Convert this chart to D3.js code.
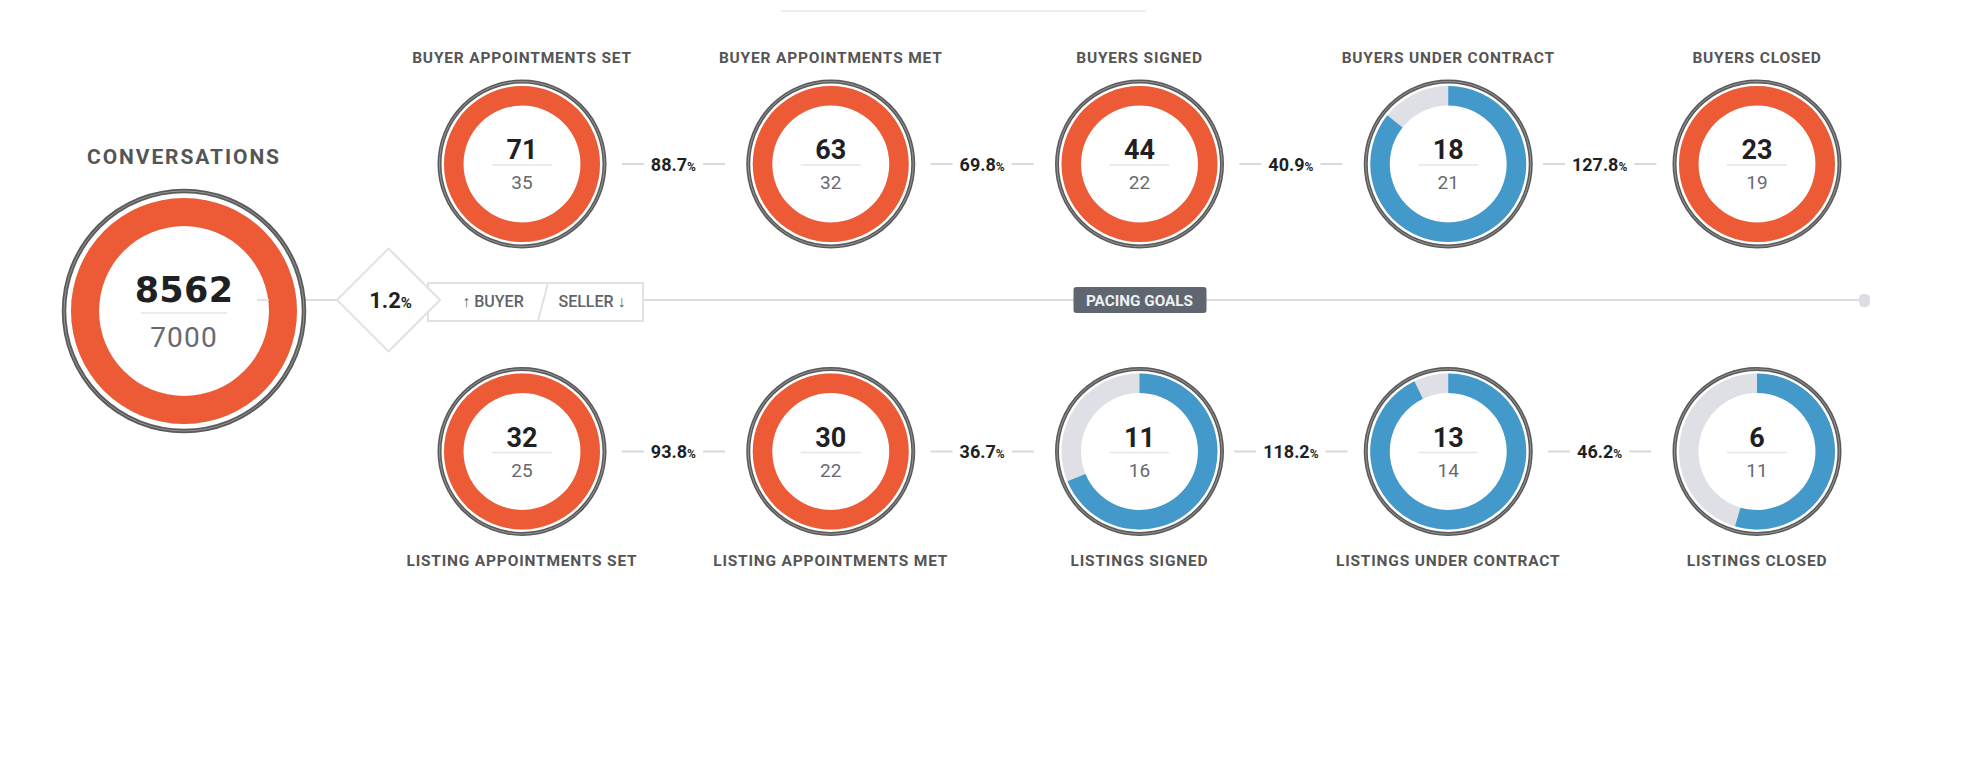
<!DOCTYPE html>
<html>
<head>
<meta charset="utf-8">
<script src="https://cdn.jsdelivr.net/npm/d3@7"></script>
<style>
  html, body { margin: 0; padding: 0; background: #ffffff; }
  svg { display: block; }
  text { font-family: Roboto, "Liberation Sans", Arial, sans-serif; }
</style>
</head>
<body>
<svg id="chart" width="1984" height="763"></svg>
<script>
// ---------- DATA ----------
const buyerLabels  = ["BUYER APPOINTMENTS SET", "BUYER APPOINTMENTS MET", "BUYERS SIGNED", "BUYERS UNDER CONTRACT", "BUYERS CLOSED"];
const buyerActual  = [71, 63, 44, 18, 23];
const buyerGoal    = [35, 32, 22, 21, 19];
const buyerRates   = ["88.7", "69.8", "40.9", "127.8"];

const listingLabels = ["LISTING APPOINTMENTS SET", "LISTING APPOINTMENTS MET", "LISTINGS SIGNED", "LISTINGS UNDER CONTRACT", "LISTINGS CLOSED"];
const listingActual = [32, 30, 11, 13, 6];
const listingGoal   = [25, 22, 16, 14, 11];
const listingRates  = ["93.8", "36.7", "118.2", "46.2"];

const convLabel  = "CONVERSATIONS";
const convActual = 8562;
const convGoal   = 7000;
const convRate   = "1.2";

const rowKeys = ["buyer", "listing"];
const pacingLabel = "PACING GOALS";
const buyerSellerLabels = ["\u2191 BUYER", "SELLER \u2193"];

// ---------- STYLE ----------
const C = {
  orange: "#ec5b35",
  blue: "#4399c9",
  track: "#dfe0e6",
  ring: "#5a5a5a",
  line: "#dcdee5",
  label: "#555555",
  num: "#1f1f24",
  sub: "#666a70"
};

const svg = d3.select("#chart");

// scales
const x = d3.scalePoint().domain(d3.range(5)).range([522, 1757]);
const y = d3.scalePoint().domain(rowKeys).range([164, 451.5]);
const angle = d3.scaleLinear().domain([0, 1]).range([0, 2 * Math.PI]).clamp(true);

// faint top rule
svg.append("line").attr("x1", 781).attr("x2", 1146).attr("y1", 11).attr("y2", 11)
  .attr("stroke", "#ededee").attr("stroke-width", 2);

// middle pacing line
const midY = 300;
svg.append("line").attr("x1", 257).attr("x2", 1864).attr("y1", midY).attr("y2", midY)
  .attr("stroke", C.line).attr("stroke-width", 1.8);
svg.append("rect").attr("x", 1859).attr("y", 294).attr("width", 11).attr("height", 13).attr("rx", 4.5)
  .attr("fill", "#dcdde3");

// pacing goals tag
const pg = svg.append("g").attr("transform", `translate(${x(2)},${midY})`);
pg.append("rect").attr("x", -66).attr("y", -13).attr("width", 133).attr("height", 26).attr("rx", 3)
  .attr("fill", "#5f6670");
pg.append("text").attr("text-anchor", "middle").attr("y", 5.5)
  .attr("fill", "#eef0f2").attr("font-size", 15).attr("font-weight", 700)
  .attr("textLength", 107).attr("lengthAdjust", "spacingAndGlyphs")
  .text(pacingLabel);

// ---------- GAUGE DRAWER ----------
function gauge(g, actual, goal, o) {
  const frac = actual / goal;
  const met = frac >= 1;
  const arc = d3.arc().innerRadius(o.ri).outerRadius(o.ro);
  // outer double ring
  g.append("circle").attr("r", o.rr).attr("fill", "#fff").attr("stroke", C.ring).attr("stroke-width", o.rw);
  g.append("circle").attr("r", o.rr).attr("fill", "none").attr("stroke", "#9a9a9a").attr("stroke-width", 0.9);
  // track
  g.append("path").attr("d", arc({startAngle: 0, endAngle: 2 * Math.PI})).attr("fill", C.track);
  // value arc
  g.append("path").attr("d", arc({startAngle: 0, endAngle: angle(frac)}))
    .attr("fill", met ? C.orange : C.blue);
  // numbers
  const nt = g.append("text").attr("text-anchor", "middle").attr("y", o.ny)
    .attr("font-size", o.nf).attr("font-weight", 700).attr("fill", C.num)
    .attr("letter-spacing", o.nls || 0).text(actual);
  if (o.nfam) nt.style("font-family", o.nfam);
  g.append("line").attr("x1", -o.dw / 2).attr("x2", o.dw / 2).attr("y1", o.dy).attr("y2", o.dy)
    .attr("stroke", "#e2e5ea").attr("stroke-width", 1.5);
  g.append("text").attr("text-anchor", "middle").attr("y", o.gy)
    .attr("font-size", o.gf).attr("font-weight", 400).attr("fill", C.sub)
    .attr("letter-spacing", o.gls || 0).text(goal);
}

const small = {rr: 82.5, rw: 4, ro: 78, ri: 58.5, ny: -5, nf: 27, dy: 1, dw: 60, gy: 25, gf: 19};

// rows
const rows = [
  {key: "buyer", labels: buyerLabels, actual: buyerActual, goal: buyerGoal, rates: buyerRates, labelDy: -101.5},
  {key: "listing", labels: listingLabels, actual: listingActual, goal: listingGoal, rates: listingRates, labelDy: 114}
];

rows.forEach(r => {
  const cy = y(r.key);
  // conversion rates between gauges
  r.rates.forEach((rate, i) => {
    const cx = (x(i) + x(i + 1)) / 2 - 3;
    const t = svg.append("text").attr("x", cx).attr("y", cy + 6.5).attr("text-anchor", "middle")
      .attr("font-weight", 700).attr("fill", C.num);
    t.append("tspan").attr("font-size", 18).text(rate);
    t.append("tspan").attr("font-size", 12).text("%");
    const w = t.node().getComputedTextLength();
    svg.append("line").attr("x1", cx - w / 2 - 29).attr("x2", cx - w / 2 - 7).attr("y1", cy).attr("y2", cy)
      .attr("stroke", "#d6d9df").attr("stroke-width", 2);
    svg.append("line").attr("x1", cx + w / 2 + 7).attr("x2", cx + w / 2 + 29).attr("y1", cy).attr("y2", cy)
      .attr("stroke", "#d6d9df").attr("stroke-width", 2);
  });
  r.labels.forEach((lab, i) => {
    const g = svg.append("g").attr("transform", `translate(${x(i)},${cy})`);
    gauge(g, r.actual[i], r.goal[i], small);
    svg.append("text").attr("x", x(i)).attr("y", cy + r.labelDy).attr("text-anchor", "middle")
      .attr("font-size", 15.5).attr("font-weight", 700).attr("fill", C.label)
      .attr("letter-spacing", 0.8).text(lab);
  });
});

// ---------- CONVERSATIONS ----------
const conv = {x: 184, y: 311};
svg.append("line").attr("x1", 257).attr("x2", 340).attr("y1", midY).attr("y2", midY)
  .attr("stroke", C.line).attr("stroke-width", 1.8);
const cg = svg.append("g").attr("transform", `translate(${conv.x},${conv.y})`);
gauge(cg, convActual, convGoal, {rr: 120, rw: 4.5, ro: 113, ri: 85, ny: -9, nf: 35,
  nfam: "'DejaVu Sans', Roboto, sans-serif", nls: 0.3, dy: 2, dw: 86, gy: 36, gf: 28, gls: 1.2});
// short visible stub of the pacing line inside the white interior
svg.append("line").attr("x1", 257).attr("x2", 269).attr("y1", midY).attr("y2", midY)
  .attr("stroke", C.line).attr("stroke-width", 1.8);
svg.append("text").attr("x", conv.x).attr("y", 163.5).attr("text-anchor", "middle")
  .attr("font-size", 21).attr("font-weight", 700).attr("fill", C.label).attr("letter-spacing", 1.9)
  .text(convLabel);

// ---------- BUYER / SELLER BOX + DIAMOND ----------
svg.append("rect").attr("x", 428).attr("y", 283).attr("width", 215).attr("height", 38)
  .attr("fill", "#fff").attr("stroke", "#dfe1e5").attr("stroke-width", 2);
svg.append("line").attr("x1", 548).attr("y1", 283).attr("x2", 538).attr("y2", 321)
  .attr("stroke", "#dfe1e5").attr("stroke-width", 2);
svg.append("text").attr("x", 493).attr("y", 307).attr("text-anchor", "middle")
  .attr("font-size", 16).attr("font-weight", 500).attr("fill", "#60646a").text(buyerSellerLabels[0]);
svg.append("text").attr("x", 592).attr("y", 307).attr("text-anchor", "middle")
  .attr("font-size", 16).attr("font-weight", 500).attr("fill", "#60646a").text(buyerSellerLabels[1]);

const dia = {x: 388.5, y: midY, h: 51.5};
svg.append("path")
  .attr("d", `M${dia.x - dia.h},${dia.y} L${dia.x},${dia.y - dia.h} L${dia.x + dia.h},${dia.y} L${dia.x},${dia.y + dia.h} Z`)
  .attr("fill", "#fff").attr("stroke", "#e0e2e6").attr("stroke-width", 2).attr("stroke-linejoin", "round");
const rt = svg.append("text").attr("x", dia.x + 2).attr("y", 308).attr("text-anchor", "middle")
  .attr("font-weight", 700).attr("fill", C.num);
rt.append("tspan").attr("font-size", 22).text(convRate);
rt.append("tspan").attr("font-size", 15).text("%");
</script>
</body>
</html>
